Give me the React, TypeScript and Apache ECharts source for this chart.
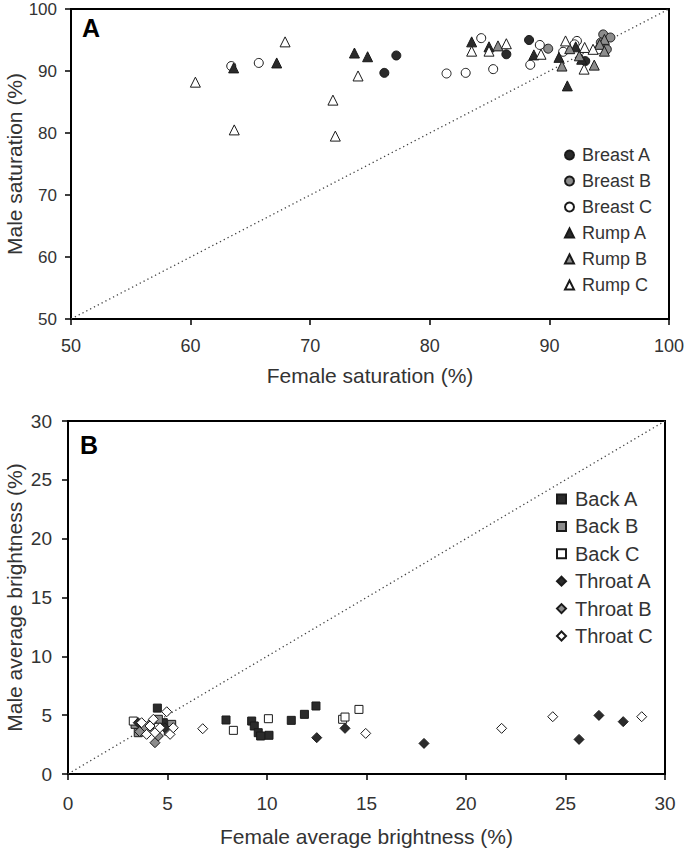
import React, { useEffect, useRef } from "react";
import * as echarts from "echarts";

type P = [number, number];

// Panel A: saturation (%) — [female, male]
const breastA: P[] = [[76.2, 89.7], [77.2, 92.5], [86.4, 92.7], [88.3, 95.0], [93.0, 91.6]];
const breastB: P[] = [[89.9, 93.6], [94.5, 95.9], [95.1, 95.4], [94.8, 93.5], [94.3, 94.6]];
const breastC: P[] = [
  [63.4, 90.8], [65.7, 91.3], [81.4, 89.6], [83.0, 89.7], [84.3, 95.3], [85.3, 90.3],
  [88.4, 91.0], [89.2, 94.2], [91.15, 93.1], [92.3, 94.85], [92.1, 94.3], [94.1, 93.5],
];
const rumpA: P[] = [
  [63.6, 90.5], [67.2, 91.3], [73.7, 92.9], [74.8, 92.3], [83.5, 94.7], [84.95, 93.9],
  [88.7, 92.6], [90.8, 92.2], [92.2, 93.9], [92.7, 91.9], [91.5, 87.6],
];
const rumpB: P[] = [
  [85.7, 94.05], [91.05, 90.8], [91.7, 93.6], [92.5, 92.45], [93.75, 90.95],
  [94.6, 95.1], [94.2, 94.3], [94.6, 93.2],
];
const rumpC: P[] = [
  [60.4, 88.2], [63.65, 80.5], [67.9, 94.7], [71.9, 85.3], [72.1, 79.5], [74.0, 89.2],
  [83.5, 93.2], [84.95, 93.2], [86.4, 94.4], [89.3, 92.7], [91.35, 94.85], [92.95, 93.8],
  [92.9, 90.3], [93.65, 93.5],
];
const diagA: P[] = [[50, 50], [100, 100]];

// Panel B: average brightness (%) — [female, male]
const backA: P[] = [
  [4.49, 5.6], [7.94, 4.59], [9.23, 4.5], [9.36, 4.08], [9.56, 3.51], [9.68, 3.23],
  [10.1, 3.29], [11.22, 4.56], [11.88, 5.07], [12.46, 5.78], [4.79, 4.36], [3.7, 3.93],
];
const backB: P[] = [[3.37, 4.22], [3.53, 3.51], [5.04, 3.65], [5.21, 4.22], [4.54, 4.65], [4.1, 3.8]];
const backC: P[] = [[8.31, 3.71], [10.07, 4.7], [13.8, 4.65], [13.92, 4.84], [14.62, 5.49], [3.28, 4.5]];
const throatA: P[] = [
  [12.5, 3.09], [13.92, 3.88], [17.89, 2.6], [25.68, 2.94], [26.68, 4.98], [27.9, 4.45],
  [3.53, 4.36], [4.87, 3.93],
];
const throatB: P[] = [[4.37, 2.66], [3.87, 3.93], [4.54, 3.23], [4.2, 4.4], [3.6, 3.6]];
const throatC: P[] = [
  [4.96, 5.29], [6.77, 3.85], [14.96, 3.45], [21.79, 3.88], [24.36, 4.87], [28.83, 4.87],
  [3.7, 4.36], [4.12, 4.08], [4.37, 3.51], [3.95, 3.37], [4.62, 3.93], [5.13, 3.37],
  [5.29, 3.93], [4.29, 4.65],
];
const diagB: P[] = [[0, 0], [30, 30]];

const legendA = ["Breast A", "Breast B", "Breast C", "Rump A", "Rump B", "Rump C"];
const legendB = ["Back A", "Back B", "Back C", "Throat A", "Throat B", "Throat C"];

const FONT = "'Liberation Sans', Arial, Helvetica, sans-serif";
const DARK = "#2b2b2b";
const GRAY = "#8c8c8c";
const WHITE = "#ffffff";
const TXT = "#333333";

function scatter(name: string, data: P[], symbol: string, size: number, fill: string, idx: number) {
  return {
    type: "scatter",
    name,
    data,
    symbol,
    symbolSize: size,
    xAxisIndex: idx,
    yAxisIndex: idx,
    itemStyle: { color: fill, borderColor: "#1a1a1a", borderWidth: 1, opacity: 1 },
    emphasis: { disabled: true },
  };
}

function diag(data: P[], idx: number) {
  return {
    type: "line",
    data,
    xAxisIndex: idx,
    yAxisIndex: idx,
    symbol: "none",
    silent: true,
    lineStyle: { color: "#444", width: 1.3, type: [1.3, 3] },
    z: 1,
  };
}

function axis(idx: number, min: number, max: number, interval: number, name: string, fs: number, margin: number, gap: number) {
  return {
    type: "value",
    gridIndex: idx,
    min,
    max,
    interval,
    name,
    nameLocation: "middle",
    nameGap: gap,
    nameMoveOverlap: false,
    nameTextStyle: { fontSize: 21, color: TXT, fontFamily: FONT },
    axisLine: { show: true, onZero: false, lineStyle: { color: "#000", width: 2 } },
    axisTick: { show: true, inside: false, length: 6, lineStyle: { color: "#000", width: 1.5 } },
    axisLabel: { fontSize: fs, lineHeight: 14, color: TXT, fontFamily: FONT, margin },
    splitLine: { show: false },
  };
}

export default function App() {
  const ref = useRef<HTMLDivElement>(null);
  useEffect(() => {
    document.body.style.margin = "0";
    if (!ref.current) return;
    const chart = echarts.init(ref.current, undefined, { renderer: "svg" });
    chart.setOption({
      animation: false,
      backgroundColor: "#ffffff",
      textStyle: { fontFamily: FONT },
      grid: [
        { left: 71, top: 9, width: 598, height: 310, containLabel: false, outerBoundsMode: "none", show: true, borderColor: "#000", borderWidth: 2, backgroundColor: "transparent" },
        { left: 68, top: 421, width: 597, height: 353, containLabel: false, outerBoundsMode: "none", show: true, borderColor: "#000", borderWidth: 2, backgroundColor: "transparent" },
      ],
      xAxis: [
        axis(0, 50, 100, 10, "Female saturation (%)", 18, 20, 46),
        axis(1, 0, 30, 5, "Female average brightness (%)", 19, 22, 52),
      ],
      yAxis: [
        axis(0, 50, 100, 10, "Male saturation (%)", 17, 14, 46),
        axis(1, 0, 30, 5, "Male average brightness (%)", 19, 16, 43),
      ],
      legend: [
        {
          data: legendA,
          orient: "vertical",
          left: 564,
          top: 146,
          padding: 0,
          itemWidth: 9,
          itemHeight: 9,
          itemGap: 8,
          textStyle: { fontSize: 18, lineHeight: 18, color: TXT, fontFamily: FONT, padding: [0, 0, 0, 3] },
          selectedMode: false,
        },
        {
          data: legendB,
          orient: "vertical",
          left: 556,
          top: 489,
          padding: 0,
          itemWidth: 9,
          itemHeight: 9,
          itemGap: 7.4,
          textStyle: { fontSize: 20, lineHeight: 20, color: TXT, fontFamily: FONT, padding: [0, 0, 0, 4] },
          selectedMode: false,
        },
      ],
      graphic: [
        { type: "text", left: 82, top: 15, style: { text: "A", fontSize: 25, fontWeight: "bold", fill: "#000", fontFamily: FONT } },
        { type: "text", left: 80, top: 432, style: { text: "B", fontSize: 25, fontWeight: "bold", fill: "#000", fontFamily: FONT } },
      ],
      series: [
        diag(diagA, 0),
        scatter("Breast A", breastA, "circle", 9, DARK, 0),
        scatter("Breast B", breastB, "circle", 9, GRAY, 0),
        scatter("Breast C", breastC, "circle", 9, WHITE, 0),
        scatter("Rump A", rumpA, "triangle", 10, DARK, 0),
        scatter("Rump B", rumpB, "triangle", 10, GRAY, 0),
        scatter("Rump C", rumpC, "triangle", 10, WHITE, 0),
        diag(diagB, 1),
        scatter("Back A", backA, "rect", 8, DARK, 1),
        scatter("Back B", backB, "rect", 8, GRAY, 1),
        scatter("Back C", backC, "rect", 8, WHITE, 1),
        scatter("Throat A", throatA, "diamond", 10, DARK, 1),
        scatter("Throat B", throatB, "diamond", 10, GRAY, 1),
        scatter("Throat C", throatC, "diamond", 10, WHITE, 1),
      ],
    });
    return () => chart.dispose();
  }, []);
  return <div ref={ref} style={{ position: "absolute", left: 0, top: 0, width: 686, height: 850 }} />;
}
